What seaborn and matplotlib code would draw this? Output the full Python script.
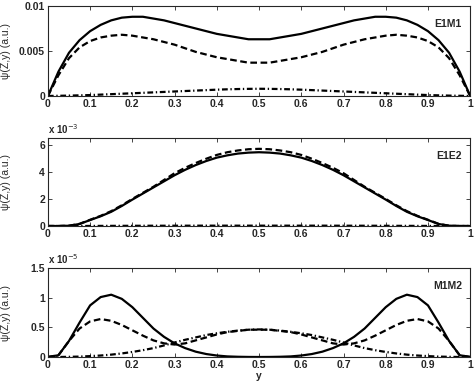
import numpy as np
import pandas as pd
import matplotlib
matplotlib.use("Agg")
import matplotlib.pyplot as plt
import seaborn as sns

# sample positions along y (step 0.025)
y_pos = [0, 0.025, 0.05, 0.075, 0.1, 0.125, 0.15, 0.175, 0.2, 0.225, 0.25, 0.275, 0.3, 0.325,
         0.35, 0.375, 0.4, 0.425, 0.45, 0.475, 0.5, 0.525, 0.55, 0.575, 0.6, 0.625, 0.65, 0.675,
         0.7, 0.725, 0.75, 0.775, 0.8, 0.825, 0.85, 0.875, 0.9, 0.925, 0.95, 0.975, 1]

# E1M1 (absolute units)
e1m1_solid = [0, 0.0027, 0.0048, 0.0062, 0.0072, 0.0079, 0.0084, 0.0087, 0.0088, 0.0088, 0.0086,
              0.0084, 0.0081, 0.0078, 0.0075, 0.0072, 0.0069, 0.0067, 0.0065, 0.0063, 0.0063,
              0.0063, 0.0065, 0.0067, 0.0069, 0.0072, 0.0075, 0.0078, 0.0081, 0.0084, 0.0086,
              0.0088, 0.0088, 0.0087, 0.0084, 0.0079, 0.0072, 0.0062, 0.0048, 0.0027, 0]
e1m1_dash = [0, 0.0023, 0.0042, 0.0054, 0.0061, 0.0065, 0.0067, 0.0068, 0.0067, 0.0065, 0.0063,
             0.0060, 0.0057, 0.0053, 0.0049, 0.0046, 0.0043, 0.0041, 0.0039, 0.0037, 0.0037,
             0.0037, 0.0039, 0.0041, 0.0043, 0.0046, 0.0049, 0.0053, 0.0057, 0.0060, 0.0063,
             0.0065, 0.0067, 0.0068, 0.0067, 0.0065, 0.0061, 0.0054, 0.0042, 0.0023, 0]
e1m1_dashdot = [0, 0.00002, 0.00004, 0.00007, 0.0001, 0.00015, 0.0002, 0.00025, 0.0003, 0.00035, 0.0004,
                0.00045, 0.0005, 0.00055, 0.0006, 0.00065, 0.0007, 0.00074, 0.00077, 0.00079, 0.0008,
                0.00079, 0.00077, 0.00074, 0.0007, 0.00065, 0.0006, 0.00055, 0.0005, 0.00045, 0.0004,
                0.00035, 0.0003, 0.00025, 0.0002, 0.00015, 0.0001, 0.00007, 0.00004, 0.00002, 0]

# E1E2 (x 10^-3)
e1e2_solid = [0, 0, 0.02, 0.15, 0.44, 0.72, 1.05, 1.48, 1.95, 2.4, 2.85, 3.3, 3.75, 4.15, 4.5,
              4.8, 5.05, 5.22, 5.35, 5.42, 5.45, 5.42, 5.35, 5.22, 5.05, 4.8, 4.5, 4.15, 3.75,
              3.3, 2.85, 2.4, 1.95, 1.48, 1.05, 0.72, 0.44, 0.15, 0.02, 0, 0]
e1e2_dash = [0, 0, 0.02, 0.16, 0.46, 0.75, 1.1, 1.53, 2.0, 2.45, 2.9, 3.4, 3.9, 4.3, 4.65,
             4.97, 5.25, 5.45, 5.58, 5.67, 5.7, 5.67, 5.58, 5.45, 5.25, 4.97, 4.65, 4.3, 3.9,
             3.4, 2.9, 2.45, 2.0, 1.53, 1.1, 0.75, 0.46, 0.16, 0.02, 0, 0]
e1e2_dashdot = [0, 0, 0, 0, 0.005, 0.008, 0.01, 0.013, 0.015, 0.018, 0.02, 0.02, 0.022, 0.022, 0.025,
                0.025, 0.025, 0.025, 0.025, 0.025, 0.025, 0.025, 0.025, 0.025, 0.025, 0.025, 0.025,
                0.022, 0.022, 0.02, 0.02, 0.018, 0.015, 0.013, 0.01, 0.008, 0.005, 0, 0, 0, 0]

# M1M2 (x 10^-5)
m1m2_solid = [0, 0.03, 0.27, 0.58, 0.87, 1.01, 1.05, 0.98, 0.84, 0.66, 0.48, 0.34, 0.23, 0.15,
              0.09, 0.05, 0.025, 0.01, 0.004, 0.001, 0, 0.001, 0.004, 0.01, 0.025, 0.05, 0.09,
              0.15, 0.23, 0.34, 0.48, 0.66, 0.84, 0.98, 1.05, 1.01, 0.87, 0.58, 0.27, 0.03, 0]
m1m2_dash = [0, 0.03, 0.27, 0.48, 0.6, 0.64, 0.61, 0.54, 0.45, 0.36, 0.28, 0.23, 0.21, 0.23,
             0.28, 0.33, 0.38, 0.42, 0.44, 0.46, 0.46, 0.46, 0.44, 0.42, 0.38, 0.33, 0.28, 0.23,
             0.21, 0.23, 0.28, 0.36, 0.45, 0.54, 0.61, 0.64, 0.6, 0.48, 0.27, 0.03, 0]
m1m2_dashdot = [0, 0, 0.003, 0.007, 0.015, 0.025, 0.04, 0.06, 0.085, 0.115, 0.15, 0.195, 0.245,
                0.29, 0.33, 0.37, 0.4, 0.425, 0.445, 0.46, 0.465, 0.46, 0.445, 0.425, 0.4, 0.37,
                0.33, 0.29, 0.245, 0.195, 0.15, 0.115, 0.085, 0.06, 0.04, 0.025, 0.015, 0.007,
                0.003, 0, 0]

x_ticks = [0, 0.1, 0.2, 0.3, 0.4, 0.5, 0.6, 0.7, 0.8, 0.9, 1]
x_ticklabels = ["0", "0.1", "0.2", "0.3", "0.4", "0.5", "0.6", "0.7", "0.8", "0.9", "1"]

panels = [
    ("E1M1", [e1m1_solid, e1m1_dash, e1m1_dashdot], [0, 0.005, 0.01], ["0", "0.005", "0.01"], 0.01, None),
    ("E1E2", [e1e2_solid, e1e2_dash, e1e2_dashdot], [0, 2, 4, 6], ["0", "2", "4", "6"], 6.5, "-3"),
    ("M1M2", [m1m2_solid, m1m2_dash, m1m2_dashdot], [0, 0.5, 1, 1.5], ["0", "0.5", "1", "1.5"], 1.5, "-5"),
]

sns.set_style("ticks")
plt.rcParams['font.family'] = ['Liberation Sans', 'DejaVu Sans']

fig = plt.figure(figsize=(4.74, 3.87), dpi=100)
boxes = [(0.101, 0.752, 0.891, 0.2326), (0.101, 0.416, 0.891, 0.2274), (0.101, 0.0775, 0.891, 0.230)]

styles = ["-", (0, (3, 1.6)), (0, (2.6, 1.2, 0.6, 1.2))]

for (name, series, yt, ytl, ytop, expo), box in zip(panels, boxes):
    ax = fig.add_axes(box)
    for vals, ls in zip(series, styles):
        df = pd.DataFrame({"y": y_pos, "psi": vals})
        sns.lineplot(data=df, x="y", y="psi", ax=ax, color="black", lw=1.6, linestyle=ls)
    ax.set_xlim(0, 1)
    ax.set_ylim(0, ytop)
    ax.set_xticks(x_ticks)
    ax.set_xticklabels(x_ticklabels, fontsize=7.5, fontweight="bold")
    ax.set_yticks(yt)
    ax.set_yticklabels(ytl, fontsize=7.5, fontweight="bold")
    ax.tick_params(direction="in", length=3, width=0.6, top=True, right=True, pad=2)
    for s in ax.spines.values():
        s.set_linewidth(0.8)
    ax.set_ylabel("ψ(Z,y) (a.u.)", fontsize=7.5, labelpad=2)
    ax.yaxis.set_label_coords(-0.088, 0.5)
    ax.set_xlabel("")
    ax.text(0.98, 0.8, name, transform=ax.transAxes, ha="right", va="center",
            fontsize=7.5, fontweight="bold")
    if expo is not None:
        ax.text(0.0, 1.02, r"x 10$^{%s}$" % expo, transform=ax.transAxes, ha="left", va="bottom",
                fontsize=7, fontweight="bold")

ax.set_xlabel("y", fontsize=7.5, fontweight="bold", labelpad=1)

fig.savefig("out.png", dpi=100)
